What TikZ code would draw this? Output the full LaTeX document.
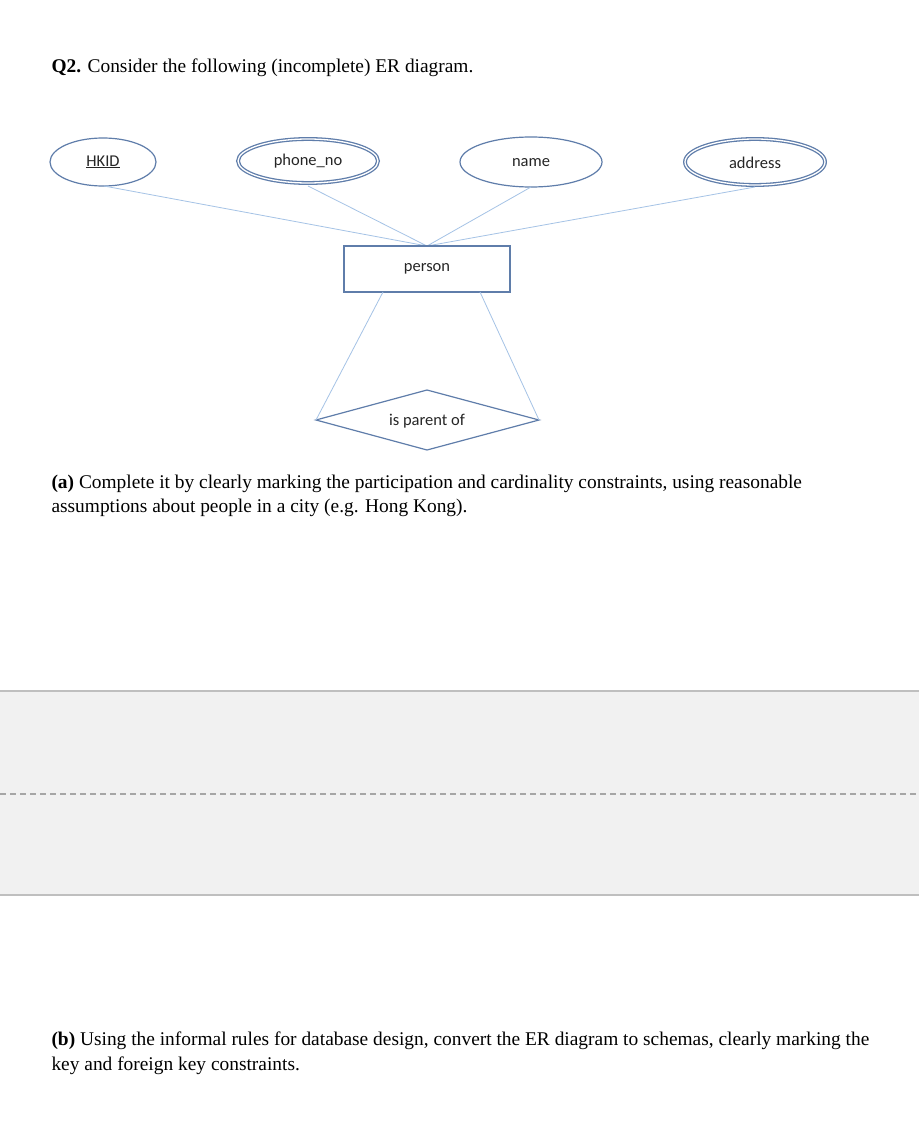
\documentclass[tikz,border=0pt]{standalone}
\usepackage{fontspec}
\setmainfont{Liberation Serif}
\newfontfamily\erlabfont{Carlito}
\begin{document}
\begin{tikzpicture}[x=1pt,y=-1pt,
 lk/.style={draw=erline,line width=0.8pt},
 body/.style={anchor=base west,font=\fontsize{19.4}{23}\selectfont},
 dbl/.style={erblue,line width=1.3pt,double=white,double distance=1.3pt},
 lab/.style={font=\erlabfont\fontsize{16.5}{19}\selectfont,text=black!85}]
\definecolor{erblue}{RGB}{95,125,170}
\definecolor{erline}{RGB}{165,195,230}
\useasboundingbox (0,0) rectangle (919,1121);
\fill[white] (0,0) rectangle (919,1121);
% text
\node[body] (q) at (48,73) {\textbf{Q2.} Consider the following (incomplete) ER diagram.};
% attributes
\draw[erblue,line width=1.2pt] (103,162) ellipse [x radius=53,y radius=24];
\node[lab] (hk) at (103,162) {\underline{HKID}};
\draw[dbl] (308,161) ellipse [x radius=70,y radius=22];
\node[lab] (ph) at (308,161) {phone\_no};
\draw[erblue,line width=1.2pt] (531,162) ellipse [x radius=71,y radius=25];
\node[lab] (nm) at (531,163) {name};
\draw[dbl] (755,162) ellipse [x radius=70,y radius=23];
\node[lab] (ad) at (755,163) {address};
\coordinate (hkb) at (104,186);
\coordinate (phb) at (308,186);
\coordinate (nmb) at (531,187);
\coordinate (adb) at (755,187);
\coordinate (pt) at (427,246);
\draw[lk] (hkb)--(pt) (phb)--(pt) (nmb)--(pt) (adb)--(pt);
% entity
\node[draw=erblue,line width=1.2pt,minimum width=166pt,minimum height=46pt,lab] (person) at (427,269) {person};
% relationship
\coordinate (dl) at (316,420);\coordinate (dr) at (539,420);
\coordinate (dt) at (427,390);\coordinate (db) at (427,450);
\draw[erblue,line width=1.2pt] (dl)--(dt)--(dr)--(db)--cycle;
\node[lab] (rel) at (427,421) {is parent of};
\coordinate (pl) at (383,292);\coordinate (pr) at (480,292);
\draw[lk] (pl)--(dl) (pr)--(dr);
\node[body] (qa) at (48,488) {\textbf{(a)} Complete it by clearly marking the participation and cardinality constraints, using reasonable};
\node[body] (qa2) at (48,512) {assumptions about people in a city (e.g. Hong Kong).};
% answer band
\fill[black!5.5] (0,691) rectangle (919,895);
\draw[black!25,line width=1.5pt] (0,691)--(919,691) (0,895)--(919,895);
\draw[black!35,line width=1.4pt,dash pattern=on 6pt off 4pt] (0,794)--(919,794);
\node[body] (qb) at (48,1045) {\textbf{(b)} Using the informal rules for database design, convert the ER diagram to schemas, clearly marking the};
\node[body] (qb2) at (48,1070) {key and foreign key constraints.};
\end{tikzpicture}
\end{document}
